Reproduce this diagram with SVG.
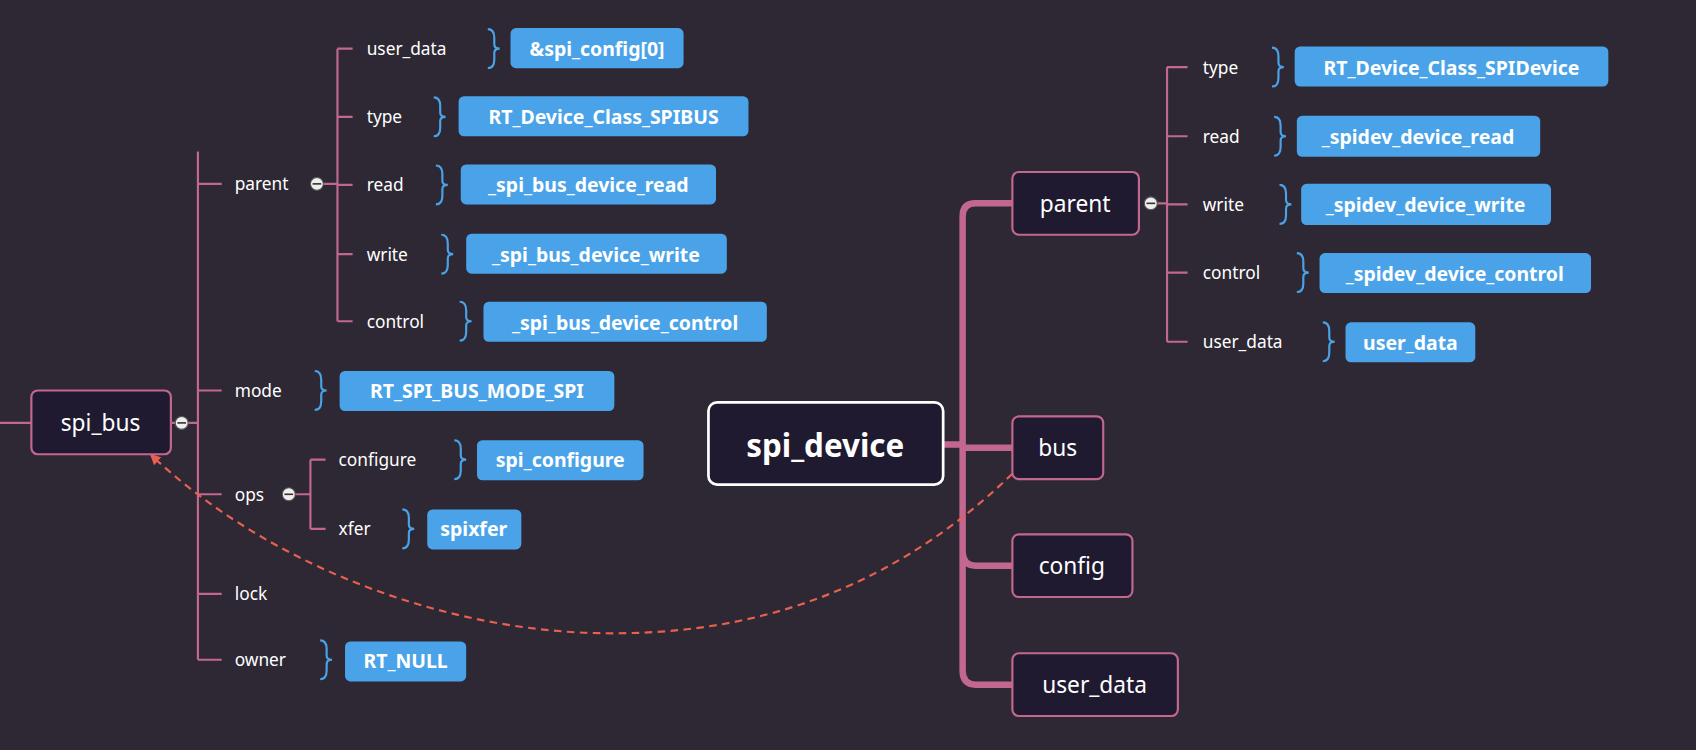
<svg xmlns="http://www.w3.org/2000/svg" xmlns:xlink="http://www.w3.org/1999/xlink" width="1696" height="750" viewBox="0 0 1696 750">
<style>
.bg{fill:#2d2833}
.ln{stroke:#c2678f;stroke-width:2;fill:none}
.tk{stroke:#c2678f;stroke-width:6;fill:none;stroke-linecap:round}
.nd{fill:#201a31;stroke:#c2678f;stroke-width:2}
.nt{font-family:"Noto Sans",sans-serif;font-size:21px;fill:#fff;text-anchor:middle;dominant-baseline:central}
.lb{font-family:"Noto Sans",sans-serif;font-size:16px;fill:#fff;dominant-baseline:central}
.vb{fill:#4aa3e8}
.vt{font-family:"Noto Sans",sans-serif;font-size:18px;font-weight:bold;fill:#fff;text-anchor:middle;dominant-baseline:central}
.br{stroke:#4aa3e8;stroke-width:2;fill:none}
.cc{fill:#eee;stroke:#555;stroke-width:1}
.cm{stroke:#333;stroke-width:1.5}
</style>
<defs>
<path id="brace" d="M-4,-18 Q2,-18 2,-10 L2,-4 Q2,0 7,0 Q2,0 2,4 L2,10 Q2,18 -4,18"/>
<marker id="ah" markerWidth="10" markerHeight="10" refX="8" refY="5" orient="auto" markerUnits="userSpaceOnUse"><path d="M0,0 L10,5 L0,10 Z" fill="#e8604f"/></marker>
</defs>
<rect class="bg" width="1696" height="750"/>
<g transform="scale(1.0816)">
<g id="connectors">
<path class="ln" d="M0,391 H29 M158,391 H183 M183,140 V610 M183,170 H205 M183,361 H205 M183,457 H205 M183,549 H205 M183,610 H205"/>
<path class="ln" d="M299,170 H312 M312,45 V297 M312,45 H326 M312,108 H326 M312,171 H326 M312,235 H326 M312,297 H326"/>
<path class="ln" d="M273,457 H287 M287,425 V489 M287,425 H301 M287,489 H301"/>
<path class="tk" d="M872,411 H890 M890,200 Q890,188 902,188 H936 M890,200 V620 Q890,633 902,633 H936 M890,414 H936 M890,510 Q890,523 902,523 H936"/>
<path class="ln" d="M1070,188 H1079 M1079,62 V316 M1079,62 H1098 M1079,126 H1098 M1079,189 H1098 M1079,252 H1098 M1079,316 H1098"/>
<path d="M936,438 C810,560 670,590 540,585 C390,578 240,515 140,421" fill="none" stroke="#e8604f" stroke-width="2" stroke-dasharray="7,5" marker-end="url(#ah)"/>
</g>
<g id="spi_bus"><rect class="nd" x="29" y="361" width="129" height="59" rx="6"/><text class="nt" x="93" y="391">spi_bus</text><circle class="cc" cx="168" cy="391" r="6"/><path class="cm" d="M164,391 H172"/></g>
<g id="bus_parent"><text class="lb" x="217" y="170">parent</text><circle class="cc" cx="293" cy="170" r="6"/><path class="cm" d="M289,170 H297"/></g>
<g id="bus_user_data"><text class="lb" x="339" y="45">user_data</text><use href="#brace" class="br" x="455" y="45"/><rect class="vb" x="472" y="26" width="160" height="37" rx="5"/><text class="vt" x="552" y="45">&amp;spi_config[0]</text></g>
<g id="bus_type"><text class="lb" x="339" y="108">type</text><use href="#brace" class="br" x="405" y="108"/><rect class="vb" x="424" y="89" width="268" height="37" rx="5"/><text class="vt" x="558" y="108">RT_Device_Class_SPIBUS</text></g>
<g id="bus_read"><text class="lb" x="339" y="171">read</text><use href="#brace" class="br" x="407" y="171"/><rect class="vb" x="426" y="152" width="236" height="37" rx="5"/><text class="vt" x="544" y="171">_spi_bus_device_read</text></g>
<g id="bus_write"><text class="lb" x="339" y="235">write</text><use href="#brace" class="br" x="412" y="235"/><rect class="vb" x="431" y="216" width="241" height="37" rx="5"/><text class="vt" x="551" y="235">_spi_bus_device_write</text></g>
<g id="bus_control"><text class="lb" x="339" y="297">control</text><use href="#brace" class="br" x="429" y="297"/><rect class="vb" x="447" y="279" width="262" height="37" rx="5"/><text class="vt" x="578" y="298">_spi_bus_device_control</text></g>
<g id="bus_mode"><text class="lb" x="217" y="361">mode</text><use href="#brace" class="br" x="295" y="361"/><rect class="vb" x="314" y="343" width="254" height="37" rx="5"/><text class="vt" x="441" y="361">RT_SPI_BUS_MODE_SPI</text></g>
<g id="bus_ops"><text class="lb" x="217" y="457">ops</text><circle class="cc" cx="267" cy="457" r="6"/><path class="cm" d="M263,457 H271"/></g>
<g id="ops_configure"><text class="lb" x="313" y="425">configure</text><use href="#brace" class="br" x="424" y="425"/><rect class="vb" x="441" y="407" width="154" height="37" rx="5"/><text class="vt" x="518" y="425">spi_configure</text></g>
<g id="ops_xfer"><text class="lb" x="313" y="489">xfer</text><use href="#brace" class="br" x="376" y="489"/><rect class="vb" x="395" y="471" width="87" height="37" rx="5"/><text class="vt" x="438" y="489">spixfer</text></g>
<g id="bus_lock"><text class="lb" x="217" y="549">lock</text></g>
<g id="bus_owner"><text class="lb" x="217" y="610">owner</text><use href="#brace" class="br" x="300" y="610"/><rect class="vb" x="319" y="593" width="112" height="37" rx="5"/><text class="vt" x="375" y="611">RT_NULL</text></g>
<g id="spi_device"><rect x="655" y="372" width="217" height="76" rx="8" fill="#201a31" stroke="#fff" stroke-width="2.5"/><text class="nt" x="763" y="411" style="font-size:29px;font-weight:bold">spi_device</text></g>
<g id="dev_parent"><rect class="nd" x="936" y="159" width="117" height="58" rx="6"/><text class="nt" x="994" y="188">parent</text><circle class="cc" cx="1064" cy="188" r="6"/><path class="cm" d="M1060,188 H1068"/></g>
<g id="dev_bus"><rect class="nd" x="936" y="385" width="84" height="58" rx="6"/><text class="nt" x="978" y="414">bus</text></g>
<g id="dev_config"><rect class="nd" x="936" y="494" width="111" height="58" rx="6"/><text class="nt" x="991" y="523">config</text></g>
<g id="dev_user_data"><rect class="nd" x="936" y="604" width="153" height="58" rx="6"/><text class="nt" x="1012" y="633">user_data</text></g>
<g id="p_type"><text class="lb" x="1112" y="62">type</text><use href="#brace" class="br" x="1180" y="62"/><rect class="vb" x="1197" y="43" width="290" height="37" rx="5"/><text class="vt" x="1342" y="62">RT_Device_Class_SPIDevice</text></g>
<g id="p_read"><text class="lb" x="1112" y="126">read</text><use href="#brace" class="br" x="1182" y="126"/><rect class="vb" x="1199" y="107" width="225" height="38" rx="5"/><text class="vt" x="1311" y="126">_spidev_device_read</text></g>
<g id="p_write"><text class="lb" x="1112" y="189">write</text><use href="#brace" class="br" x="1187" y="189"/><rect class="vb" x="1203" y="170" width="231" height="38" rx="5"/><text class="vt" x="1318" y="189">_spidev_device_write</text></g>
<g id="p_control"><text class="lb" x="1112" y="252">control</text><use href="#brace" class="br" x="1203" y="252"/><rect class="vb" x="1220" y="234" width="251" height="37" rx="5"/><text class="vt" x="1345" y="253">_spidev_device_control</text></g>
<g id="p_user_data"><text class="lb" x="1112" y="316">user_data</text><use href="#brace" class="br" x="1227" y="316"/><rect class="vb" x="1244" y="298" width="120" height="37" rx="5"/><text class="vt" x="1304" y="317">user_data</text></g>
</g>
</svg>
